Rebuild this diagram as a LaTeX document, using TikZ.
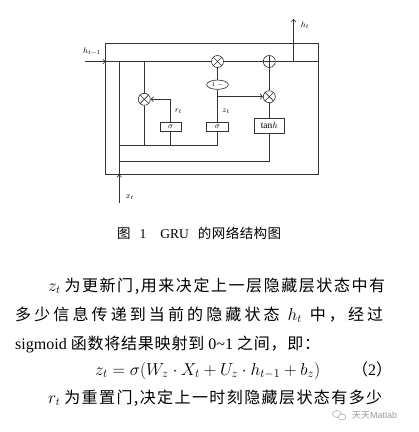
\documentclass[tikz,border=0pt]{standalone}
\usepackage{fontspec}
\setmainfont{Liberation Serif}
\newfontfamily\cjk{Noto Sans CJK SC}
\newfontfamily\wmfont{Liberation Sans}
\usetikzlibrary{shapes.geometric,arrows.meta}
% spread characters: stretchable glue between consecutive characters
\def\spc#1{#1\spcA}
\def\spcA#1{\ifx#1\relax\else\hskip0pt plus 1fil #1\expandafter\spcA\fi}
\tikzset{
  wire/.style={line width=0.65pt, draw=black!80},
  arr/.style={wire, -{Straight Barb[length=2.5pt,width=5pt]}},
  opnode/.style={circle, draw=black!80, line width=0.65pt, minimum size=12pt, inner sep=0pt, fill=white},
  otimes/.style={opnode, path picture={
      \draw[line width=0.65pt,black!80] (path picture bounding box.north west) -- (path picture bounding box.south east);
      \draw[line width=0.65pt,black!80] (path picture bounding box.north east) -- (path picture bounding box.south west);}},
  oplus/.style={opnode, path picture={
      \draw[line width=0.65pt,black!80] (path picture bounding box.north) -- (path picture bounding box.south);
      \draw[line width=0.65pt,black!80] (path picture bounding box.west) -- (path picture bounding box.east);}},
  gatebox/.style={rectangle, draw=black!80, line width=0.65pt, inner sep=0pt, fill=white,
      minimum width=21.7pt, minimum height=9.3pt, font=\fontsize{8.5}{8.5}\selectfont},
  lbl/.style={inner sep=0pt, font=\fontsize{8.5}{8.5}\selectfont},
  txt/.style={anchor=base west, inner sep=0pt, font=\fontsize{16}{18}\selectfont},
}
\begin{document}
\begin{tikzpicture}[x=1pt,y=-1pt]
\useasboundingbox (0,0) rectangle (419,432);
% outer cell box
\draw[wire] (105.7,43.3) rectangle (318.3,174.3);
% coordinates
\coordinate (hin) at (85,61.5);
\coordinate (boxL) at (105.7,61.5);
\coordinate (boxR) at (318.3,61.5);
\coordinate (hj) at (293.3,61.5);
\coordinate (ht) at (293.3,19);
\coordinate (xin) at (119.3,203);
\coordinate (xb) at (119.3,174.3);
\coordinate (jl) at (119.3,61.5);
\coordinate (j2) at (144.3,61.5);
\coordinate (bl1) at (119.3,145.7);
\coordinate (br1) at (217.5,145.7);
\coordinate (b2) at (144.3,145.7);
\coordinate (bl2) at (119.3,161);
\coordinate (zb) at (217.5,96.7);
% nodes
\node[otimes] (mr) at (144.3,99.3) {};
\node[otimes] (mz) at (217.5,61.5) {};
\node[oplus] (ad) at (269.3,61.5) {};
\node[otimes] (mh) at (269.3,96.7) {};
\node[gatebox] (s1) at (170.8,127) {$\sigma$};
\node[gatebox] (s2) at (217.5,127) {$\sigma$};
\node[gatebox, minimum width=30.7pt, minimum height=15pt, font=\fontsize{9.5}{9.5}\selectfont] (th) at (269.3,125.8) {tan$h$};
\node[ellipse, draw=black!80, line width=0.65pt, inner sep=0pt, minimum width=21.7pt, minimum height=9.3pt,
      font=\fontsize{6}{6}\selectfont] (om) at (217.5,84.7) {1\hspace{2.5pt}$-$};
% wires
\draw[arr] (hin) -- (boxL);
\draw[wire] (boxL) -- (mz.west);
\draw[wire] (mz.east) -- (ad.west);
\draw[wire] (ad.east) -- (boxR);
\draw[arr] (hj) -- (ht);
\draw[arr] (xin) -- (xb);
\draw[wire] (xb) -- (jl);
\draw[wire] (j2) -- (mr.north);
\draw[wire] (mr.south) -- (b2);
\draw[wire] (bl1) -- (br1);
\draw[wire] (s1.south) -- (s1.south |- bl1);
\draw[wire] (s2.south) -- (br1);
\draw[arr] (s1.north) |- (mr.east);
\draw[wire] (s2.north) -- (om.south);
\draw[wire] (om.north) -- (mz.south);
\draw[arr] (zb) -- (mh.west);
\draw[wire] (ad.south) -- (mh.north);
\draw[wire] (mh.south) -- (th.north);
\draw[wire] (th.south) |- (bl2);
% labels
\node[lbl] (lh1) at (92,52) {$h_{t-1}$};
\node[lbl] (lht) at (305,25.5) {$h_t$};
\node[lbl] (lxt) at (130,197) {$x_t$};
\node[lbl] (lrt) at (178.5,111.5) {$r_t$};
\node[lbl] (lzt) at (226,111.5) {$z_t$};
% caption
\node[anchor=base west, inner sep=0pt, font=\fontsize{13.5}{15}\selectfont] (cap) at (117,238)
  {\makebox[164pt][s]{{\cjk 图}\hspace{9pt}1\hspace{14pt}GRU\hspace{9pt}{\cjk\spc 的网络结构图\relax}}};
% body text
\node[txt] (l1) at (48,291) {\makebox[337pt][s]{$z_t$\hspace{4pt}{\cjk\spc 为更新门,用来决定上一层隐藏层状态中有\relax}}};
\node[txt] (l2) at (15,320) {\makebox[368pt][s]{{\cjk\spc 多少信息传递到当前的隐藏状态\relax}\hspace{8pt}$h_t$\hspace{8pt}{\cjk\spc 中，经过\relax}}};
\node[txt] (l3) at (15,349) {\makebox[305pt][s]{sigmoid\hspace{4pt}{\cjk\spc 函数将结果映射到\relax}\hspace{4pt}0\textasciitilde1\hspace{4pt}{\cjk\spc 之间，即：\relax}}};
\node[txt, font=\fontsize{16.5}{18}\selectfont] (l4) at (95,375) {$z_t=\sigma(W_z\cdot X_t+U_z\cdot h_{t-1}+b_z)$};
\node[txt] (l4n) at (352,375) {{\cjk （}2{\cjk ）}};
\node[txt] (l5) at (48,403) {\makebox[334pt][s]{$r_t$\hspace{4pt}{\cjk\spc 为重置门,决定上一时刻隐藏层状态有多少\relax}}};
% watermark
\draw[black!35, line width=0.5pt] (337,414) ellipse (4.5pt and 3.5pt);
\draw[black!35, line width=0.5pt, fill=white] (342,417) ellipse (3.8pt and 3pt);
\node[anchor=west, inner sep=0pt, text=black!40, font=\fontsize{9}{9}\selectfont] (wm) at (352,415) {{\cjk 天天}\wmfont Matlab};
\end{tikzpicture}
\end{document}
